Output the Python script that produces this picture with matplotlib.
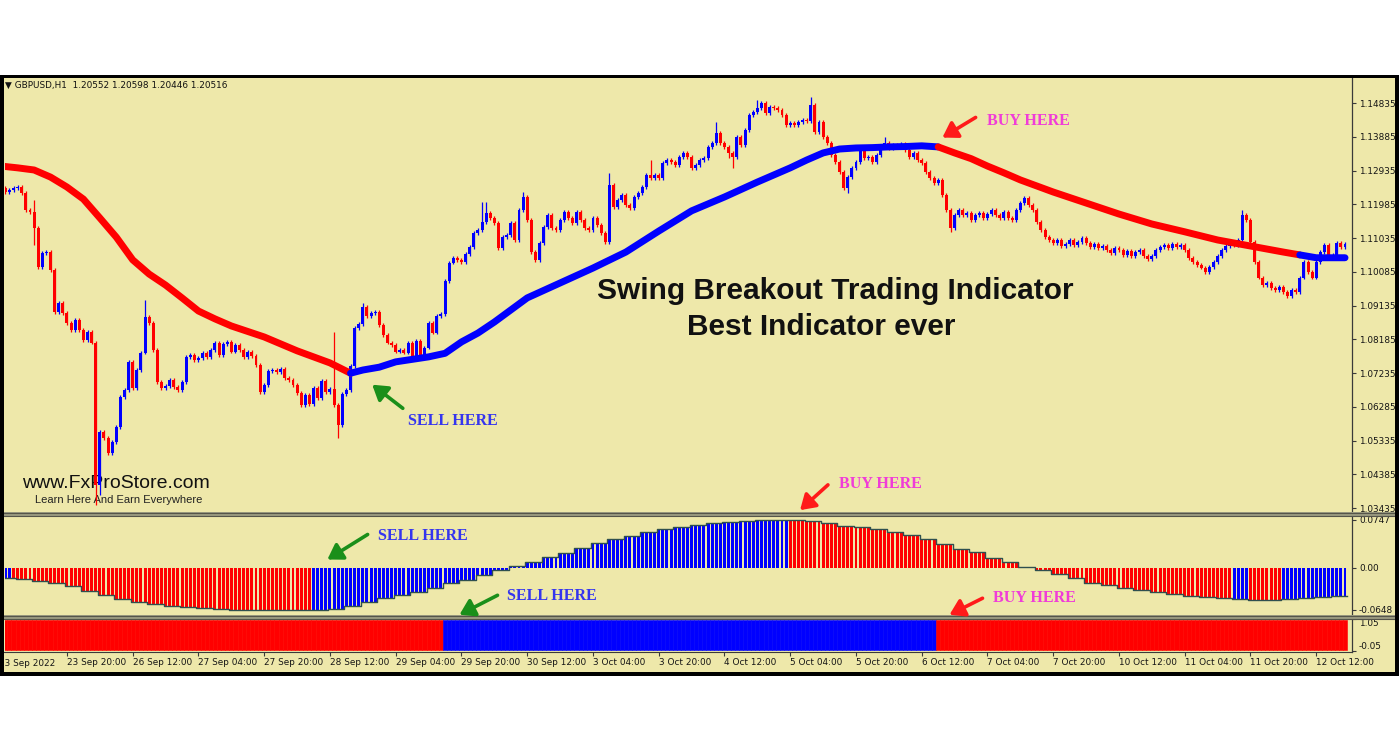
import numpy as np
import matplotlib
matplotlib.use("Agg")
import matplotlib.pyplot as plt
import matplotlib.transforms as mtransforms
from matplotlib.patches import Rectangle, FancyArrowPatch
from matplotlib.lines import Line2D

# ---------------- data ----------------
close = [
    1.1244, 1.1233, 1.1239, 1.1244, 1.1247, 1.1231, 1.1182, 1.1176, 1.1131, 1.1022,
    1.1062, 1.1064, 1.1014, 1.0895, 1.0921, 1.0893, 1.0865, 1.0845, 1.0873, 1.0845,
    1.0817, 1.0839, 1.0809, 1.0409, 1.0558, 1.0541, 1.0499, 1.0529, 1.0572, 1.0656,
    1.0676, 1.0754, 1.0681, 1.0732, 1.0781, 1.0881, 1.0865, 1.0789, 1.0698, 1.0681,
    1.0687, 1.0704, 1.0684, 1.0676, 1.0698, 1.0769, 1.0775, 1.0760, 1.0766, 1.0781,
    1.0769, 1.0789, 1.0809, 1.0775, 1.0806, 1.0811, 1.0784, 1.0803, 1.0789, 1.0769,
    1.0784, 1.0772, 1.0746, 1.0670, 1.0690, 1.0729, 1.0732, 1.0726, 1.0735, 1.0709,
    1.0704, 1.0690, 1.0667, 1.0634, 1.0662, 1.0636, 1.0681, 1.0653, 1.0701, 1.0670,
    1.0679, 1.0634, 1.0578, 1.0664, 1.0676, 1.0743, 1.0851, 1.0862, 1.0909, 1.0884,
    1.0893, 1.0895, 1.0859, 1.0831, 1.0809, 1.0803, 1.0784, 1.0789, 1.0781, 1.0809,
    1.0772, 1.0814, 1.0775, 1.0795, 1.0865, 1.0837, 1.0884, 1.0890, 1.0983, 1.1034,
    1.1048, 1.1042, 1.1036, 1.1059, 1.1078, 1.1118, 1.1126, 1.1149, 1.1174, 1.1160,
    1.1146, 1.1076, 1.1106, 1.1112, 1.1146, 1.1098, 1.1182, 1.1219, 1.1154, 1.1064,
    1.1042, 1.1090, 1.1135, 1.1168, 1.1132, 1.1126, 1.1154, 1.1176, 1.1160, 1.1146,
    1.1176, 1.1154, 1.1132, 1.1126, 1.1160, 1.1140, 1.1118, 1.1092, 1.1253, 1.1191,
    1.1211, 1.1225, 1.1197, 1.1188, 1.1219, 1.1231, 1.1247, 1.1281, 1.1273, 1.1281,
    1.1273, 1.1315, 1.1323, 1.1318, 1.1309, 1.1332, 1.1343, 1.1332, 1.1301, 1.1309,
    1.1323, 1.1329, 1.1360, 1.1371, 1.1399, 1.1371, 1.1360, 1.1343, 1.1332, 1.1388,
    1.1365, 1.1408, 1.1450, 1.1458, 1.1469, 1.1484, 1.1455, 1.1472, 1.1469, 1.1464,
    1.1450, 1.1422, 1.1428, 1.1422, 1.1430, 1.1436, 1.1433, 1.1478, 1.1402, 1.1430,
    1.1388, 1.1371, 1.1337, 1.1318, 1.1290, 1.1244, 1.1275, 1.1301, 1.1318, 1.1360,
    1.1329, 1.1332, 1.1318, 1.1337, 1.1360, 1.1371, 1.1357, 1.1365, 1.1360, 1.1368,
    1.1351, 1.1332, 1.1343, 1.1323, 1.1315, 1.1290, 1.1273, 1.1259, 1.1267, 1.1225,
    1.1182, 1.1132, 1.1168, 1.1182, 1.1168, 1.1174, 1.1154, 1.1168, 1.1174, 1.1160,
    1.1171, 1.1182, 1.1168, 1.1160, 1.1176, 1.1160, 1.1154, 1.1182, 1.1202, 1.1216,
    1.1197, 1.1182, 1.1149, 1.1126, 1.1106, 1.1098, 1.1090, 1.1098, 1.1081, 1.1087,
    1.1098, 1.1084, 1.1092, 1.1104, 1.1090, 1.1078, 1.1087, 1.1076, 1.1081, 1.1070,
    1.1062, 1.1076, 1.1070, 1.1056, 1.1067, 1.1053, 1.1064, 1.1070, 1.1053, 1.1045,
    1.1053, 1.1070, 1.1078, 1.1084, 1.1076, 1.1087, 1.1078, 1.1084, 1.1070, 1.1048,
    1.1036, 1.1028, 1.1020, 1.1008, 1.1022, 1.1036, 1.1053, 1.1070, 1.1081, 1.1092,
    1.1084, 1.1098, 1.1168, 1.1154, 1.1092, 1.1036, 1.0992, 1.0971, 1.0977, 1.0963,
    1.0957, 1.0966, 1.0952, 1.0940, 1.0957, 1.0952, 1.0992, 1.1036, 1.1008, 1.0992,
    1.1036, 1.1064, 1.1084, 1.1048, 1.1056, 1.1090, 1.1078, 1.1087,
]
first_open = 1.1250
wick = 0.0005
high_override = {8: 1.1211, 35: 1.0929, 81: 1.0839, 88: 1.0921, 117: 1.1205,
                 118: 1.1205, 127: 1.1233, 148: 1.1287, 158: 1.1323, 174: 1.1430,
                 184: 1.1492, 197: 1.1500, 215: 1.1388, 302: 1.1182}
low_override = {8: 1.1084, 23: 1.0352, 24: 1.0380, 82: 1.0541, 177: 1.1329,
                178: 1.1301, 206: 1.1231, 231: 1.1121}

ma_idx = [0, 4, 8, 12, 16, 20, 24, 28, 32, 36, 40, 44, 48, 52, 56, 64, 72, 80, 85,
          88, 92, 96, 100, 104, 108, 112, 116, 120, 128, 136, 144, 152, 160, 168,
          176, 184, 192, 196, 200, 204, 208, 212, 216, 220, 224, 228, 232, 236,
          240, 244, 248, 256, 264, 272, 280, 288, 296, 304, 312, 316, 320, 327]
ma_val = [1.1306, 1.1301, 1.1295, 1.1275, 1.1247, 1.1213, 1.1160, 1.1106, 1.1042,
          1.1002, 1.0971, 1.0935, 1.0898, 1.0876, 1.0856, 1.0825, 1.0786, 1.0752,
          1.0723, 1.0732, 1.0740, 1.0755, 1.0762, 1.0769, 1.0779, 1.0811, 1.0836,
          1.0867, 1.0935, 1.0977, 1.1019, 1.1064, 1.1123, 1.1180, 1.1219, 1.1261,
          1.1301, 1.1323, 1.1343, 1.1354, 1.1357, 1.1358, 1.1360, 1.1361, 1.1363,
          1.1360, 1.1343, 1.1327, 1.1306, 1.1287, 1.1267, 1.1233, 1.1202, 1.1171,
          1.1143, 1.1121, 1.1098, 1.1081, 1.1064, 1.1056, 1.1048, 1.1048]
ma_runs = [(0, 85, "red"), (85, 228, "blue"), (228, 316, "red"), (316, 327, "blue")]

# histogram value, one per block of 4 bars
hist_step = [
    -0.0156, -0.0171, -0.0202, -0.0233, -0.0280, -0.0358, -0.0420, -0.0482, -0.0529, -0.0560,
    -0.0591, -0.0607, -0.0622, -0.0638, -0.0653, -0.0653, -0.0653, -0.0653, -0.0653, -0.0653,
    -0.0638, -0.0591, -0.0529, -0.0467, -0.0420, -0.0373, -0.0311, -0.0233, -0.0187, -0.0109,
    -0.0031, 0.0031, 0.0093, 0.0171, 0.0233, 0.0311, 0.0389, 0.0451, 0.0498, 0.0560,
    0.0607, 0.0638, 0.0669, 0.0700, 0.0715, 0.0731, 0.0747, 0.0747, 0.0747, 0.0731,
    0.0700, 0.0653, 0.0638, 0.0607, 0.0560, 0.0513, 0.0451, 0.0373, 0.0295, 0.0249,
    0.0156, 0.0093, 0.0016, -0.0031, -0.0093, -0.0156, -0.0233, -0.0264, -0.0311, -0.0342,
    -0.0373, -0.0404, -0.0435, -0.0451, -0.0467, -0.0482, -0.0498, -0.0498, -0.0482, -0.0467,
    -0.0451, -0.0435,
]
hist_runs = [(0, 3, "blue"), (3, 76, "red"), (76, 192, "blue"), (192, 300, "red"),
             (300, 304, "blue"), (304, 312, "red"), (312, 328, "blue")]
band_runs = [(0, 108, "red"), (108, 228, "blue"), (228, 328, "red")]

price_ticks = [1.03435, 1.04385, 1.05335, 1.06285, 1.07235, 1.08185, 1.09135,
               1.10085, 1.11035, 1.11985, 1.12935, 1.13885, 1.14835]
hist_ticks = [0.0747, 0.0, -0.0648]
hist_tick_labels = ["0.0747", "0.00", "-0.0648"]
band_ticks = [1.05, -0.05]
band_tick_labels = ["1.05", "-0.05"]
date_pos = [0, 16, 32, 48, 64, 80, 96, 112, 128, 144, 160, 176, 192, 208, 224,
            240, 256, 272, 288, 304, 320]
date_labels = ["23 Sep 2022", "23 Sep 20:00", "26 Sep 12:00", "27 Sep 04:00",
               "27 Sep 20:00", "28 Sep 12:00", "29 Sep 04:00", "29 Sep 20:00",
               "30 Sep 12:00", "3 Oct 04:00", "3 Oct 20:00", "4 Oct 12:00",
               "5 Oct 04:00", "5 Oct 20:00", "6 Oct 12:00", "7 Oct 04:00",
               "7 Oct 20:00", "10 Oct 12:00", "11 Oct 04:00", "11 Oct 20:00",
               "12 Oct 12:00"]

# ---------------- style ----------------
W, H = 1400, 750
KHAKI = "#EEE8AA"
COL = {"red": "#FF0000", "blue": "#0000FF"}
AXCOL = "#3a3a3a"
plt.rcParams["font.family"] = ["DejaVu Sans"]


def fx(x):
    return x / W


def fy(y):
    return 1 - y / H


fig = plt.figure(figsize=(14, 7.5), dpi=100)
fig.patch.set_facecolor("white")
fig.add_artist(Rectangle((fx(0), fy(676)), fx(1399), (676 - 75) / H,
                         transform=fig.transFigure, facecolor=KHAKI,
                         edgecolor="none", zorder=-10))

L, R = 5, 1352
XLIM = (0.92, 328.7)


def axes_px(top, bottom):
    a = fig.add_axes([fx(L), fy(bottom), (R - L) / W, (bottom - top) / H])
    a.set_facecolor(KHAKI)
    for s in ("left", "top", "bottom"):
        a.spines[s].set_visible(False)
    a.spines["right"].set_color(AXCOL)
    a.spines["right"].set_linewidth(0.9)
    a.set_xlim(*XLIM)
    a.yaxis.tick_right()
    a.tick_params(axis="y", direction="out", length=3, width=0.8, color=AXCOL,
                  labelsize=6.4, labelcolor="#151515", pad=2)
    a.tick_params(axis="x", bottom=False, labelbottom=False)
    return a


ax = axes_px(78, 512)
axh = axes_px(517, 615)
axb = axes_px(619, 652)

# ---------------- main candles ----------------
c = np.array(close)
idx = np.arange(len(c))
o = np.concatenate([[first_open], c[:-1]])
hi = np.maximum(o, c) + wick
lo = np.minimum(o, c) - wick
for k, v in high_override.items():
    hi[k] = v
for k, v in low_override.items():
    lo[k] = v
cols = np.where(c >= o, COL["blue"], COL["red"])
ax.vlines(idx, lo, hi, colors=cols, lw=0.9, zorder=2)
ax.bar(idx, np.maximum(np.abs(c - o), 0.00025), bottom=np.minimum(o, c),
       width=0.72, color=cols, lw=0, zorder=3)

mi = np.array(ma_idx)
mv = np.array(ma_val)
for s, e, cc in ma_runs:
    m = (mi >= s) & (mi <= e)
    ax.plot(mi[m], mv[m], color=COL[cc], lw=5.0, solid_capstyle="round",
            solid_joinstyle="round", zorder=5)

ax.set_ylim(1.03324, 1.15539)
ax.set_yticks(price_ticks)
ax.set_yticklabels([f"{t:.5f}" for t in price_ticks])

ax.text(fx(22), fy(484), "www.FxProStore.com", transform=fig.transFigure,
        fontsize=14, family="Liberation Sans", ha="left", va="center",
        color="#111111", zorder=1)
ax.text(fx(35), fy(500), "Learn Here And Earn Everywhere", transform=fig.transFigure,
        fontsize=8, family="Liberation Sans", ha="left", va="center",
        color="#222222", zorder=1)

# ---------------- histogram ----------------
hv = np.repeat(np.array(hist_step), 4)[: len(c)]
hcols = np.empty(len(c), dtype=object)
for s, e, cc in hist_runs:
    hcols[s:e] = COL[cc]
axh.bar(idx, hv, width=0.72, color=list(hcols), lw=0, zorder=2)
axh.step(np.append(idx, idx[-1] + 1) - 0.5, np.append(hv, hv[-1]), where="post",
         color="#2F4F4F", lw=1.0, zorder=3)
axh.set_ylim(-0.0731, 0.0793)
axh.set_yticks(hist_ticks)
axh.set_yticklabels(hist_tick_labels)

# ---------------- signal band ----------------
bcols = np.empty(len(c), dtype=object)
for s, e, cc in band_runs:
    bcols[s:e] = COL[cc]
axb.bar(idx, np.ones(len(c)), width=1.0, color=list(bcols), edgecolor=list(bcols),
        lw=0.4, zorder=2)
axb.set_ylim(-0.067, 1.033)
axb.set_yticks(band_ticks)
axb.set_yticklabels(band_tick_labels)
bl = axb.get_yticklabels()
bl[0].set_va("top")
bl[1].set_va("bottom")

axb.set_xticks(date_pos[1:])
axb.set_xticklabels(date_labels[1:])
axb.tick_params(axis="x", bottom=True, labelbottom=True, direction="out",
                length=3, width=0.8, color=AXCOL, labelsize=6.4,
                labelcolor="#151515", pad=1.5)
for t in axb.get_xticklabels():
    t.set_ha("left")
axb.text(date_pos[0], -0.067, date_labels[0], ha="left", va="top", fontsize=6.4,
         color="#151515", clip_on=False,
         transform=axb.transData + mtransforms.ScaledTranslation(-2 / 100, -6.5 / 100, fig.dpi_scale_trans))

# ---------------- separators / frame ----------------
for y0 in (512, 615):
    fig.add_artist(Rectangle((fx(4), fy(y0 + 4)), fx(1391), 4 / H, transform=fig.transFigure,
                             facecolor="#9a9a80", edgecolor="none", zorder=4))
    for yy in (y0 + 0.5, y0 + 3.5):
        fig.add_artist(Line2D([fx(4), fx(1395)], [fy(yy), fy(yy)], transform=fig.transFigure,
                              color="#55554a", lw=0.8, zorder=4))
fig.add_artist(Line2D([fx(4), fx(1352)], [fy(652), fy(652)], transform=fig.transFigure,
                      color=AXCOL, lw=0.8, zorder=4))

# header
fig.text(fx(5), fy(85), "\u25BC GBPUSD,H1  1.20552 1.20598 1.20446 1.20516",
         fontsize=6.4, ha="left", va="center", color="#111111")

# titles
fig.text(fx(835), fy(291), "Swing Breakout Trading Indicator", fontsize=21.5,
         fontweight="bold", family="Liberation Sans", ha="center", va="center",
         color="#111111", zorder=6)
fig.text(fx(821), fy(327), "Best Indicator ever", fontsize=21.5,
         fontweight="bold", family="Liberation Sans", ha="center", va="center",
         color="#111111", zorder=6)

# annotations
SELL_COL = "#3535EE"
BUY_COL = "#F03CD8"
GREEN = "#1A8F1A"
RED_ARROW = "#FF1A1A"
notes = [
    ("SELL HERE", SELL_COL, (408, 421), GREEN, (405, 410), (370, 383)),
    ("SELL HERE", SELL_COL, (378, 536), GREEN, (370, 533), (325, 561)),
    ("SELL HERE", SELL_COL, (507, 596), GREEN, (500, 594), (457, 616)),
    ("BUY HERE", BUY_COL, (987, 121), RED_ARROW, (978, 116), (940, 139)),
    ("BUY HERE", BUY_COL, (839, 484), RED_ARROW, (830, 483), (798, 512)),
    ("BUY HERE", BUY_COL, (993, 598), RED_ARROW, (985, 597), (947, 616)),
]
for txt, tc, tp, ac, a0, a1 in notes:
    fig.text(fx(tp[0]), fy(tp[1]), txt, fontsize=11.5, family="Liberation Serif",
             fontweight="bold", color=tc, ha="left", va="center", zorder=20)
    fig.add_artist(FancyArrowPatch((fx(a0[0]), fy(a0[1])), (fx(a1[0]), fy(a1[1])),
                                   transform=fig.transFigure,
                                   arrowstyle="-|>,head_length=0.55,head_width=0.35",
                                   mutation_scale=16, lw=2.6, color=ac, zorder=20))

# black frame
for (x0, y0, x1, y1) in [(0, 75, 1399, 78), (0, 75, 4, 676), (1395, 75, 1399, 676), (0, 672, 1399, 676)]:
    fig.add_artist(Rectangle((fx(x0), fy(y1)), (x1 - x0) / W, (y1 - y0) / H,
                             transform=fig.transFigure, facecolor="black",
                             edgecolor="none", zorder=50))

fig.savefig("out.png", dpi=100, facecolor="white")
